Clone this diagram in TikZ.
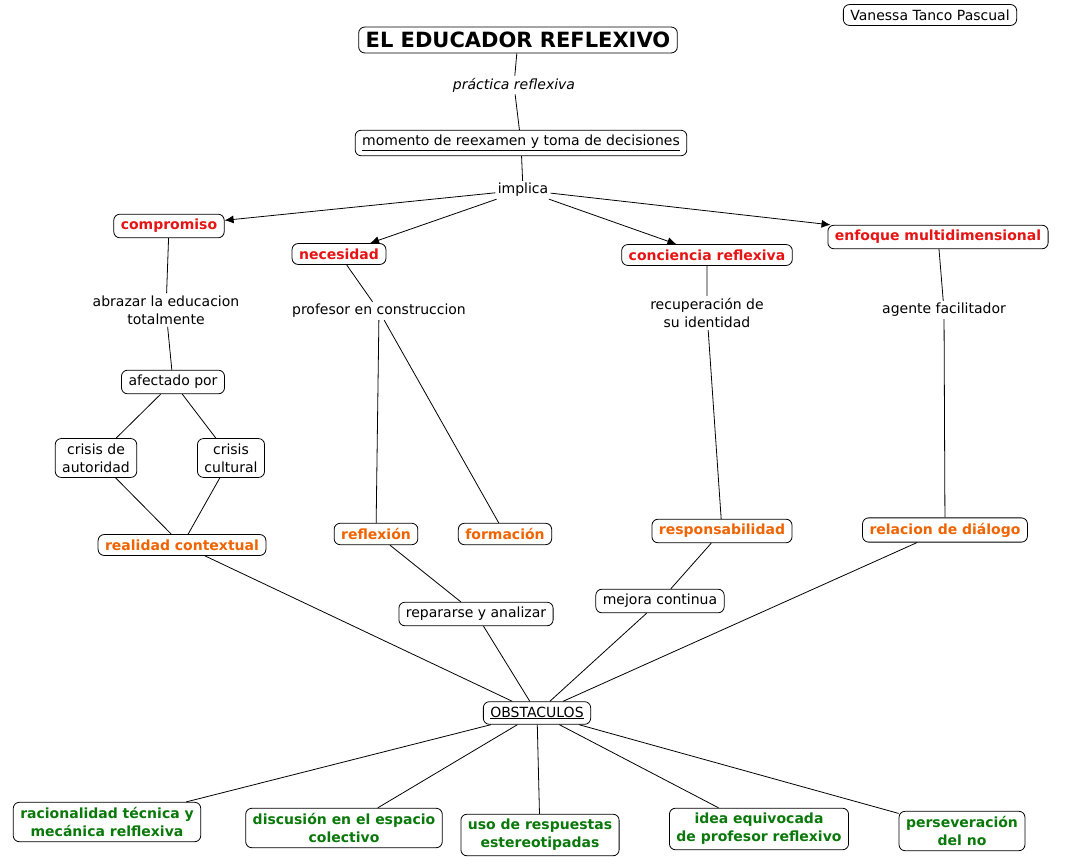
\documentclass[tikz,border=0pt]{standalone}
\usepackage{fontspec}
\setmainfont{DejaVu Sans}
\usetikzlibrary{arrows.meta}
\definecolor{cmred}{RGB}{230,20,20}
\definecolor{cmorange}{RGB}{240,100,0}
\definecolor{cmgreen}{RGB}{10,120,10}
\tikzset{>={Latex[length=9pt,width=8pt]},
             box/.style={draw, rounded corners=6pt, align=center, inner xsep=7pt, inner ysep=5pt, fill=white, font=\fontsize{14}{18}\selectfont},
             lbl/.style={align=center, fill=white, inner sep=2pt, font=\fontsize{14}{18}\selectfont},
               r/.style={text=cmred, font=\fontsize{14}{18}\selectfont\bfseries},
               o/.style={text=cmorange, font=\fontsize{14}{18}\selectfont\bfseries},
               g/.style={text=cmgreen, font=\fontsize{14}{18}\selectfont\bfseries}}

\begin{document}
\begin{tikzpicture}[x=1pt, y=-1pt, line width=0.8pt]
        \useasboundingbox (0,0) rectangle (1066,864);

        \node[box, font=\fontsize{21}{25}\selectfont\bfseries] at (518, 40) (title)   {EL EDUCADOR REFLEXIVO};
        \node[box]      at (930, 15) (author)  {Vanessa Tanco Pascual};
        \node[lbl, font=\fontsize{14}{18}\selectfont\itshape] at (514, 85) (practica) {práctica reflexiva};
        \node[box]      at (521,143) (momento) {\underline{momento de reexamen y toma de decisiones}};
        \node[lbl]      at (523,190) (implica) {implica};

        \node[box, r]   at (169,226) (compromiso) {compromiso};
        \node[box, r]   at (339,254) (necesidad)  {necesidad};
        \node[box, r]   at (707,255) (conciencia) {conciencia reflexiva};
        \node[box, r]   at (938,237) (enfoque)    {enfoque multidimensional};

        \node[lbl]      at (166,310) (abrazar)     {abrazar la educacion\\totalmente};
        \node[lbl]      at (379,311) (profesor)    {profesor en construccion};
        \node[lbl]      at (707,313) (recuperacion){recuperación de\\su identidad};
        \node[lbl]      at (944,310) (agente)      {agente facilitador};

        \node[box]      at (173,382) (afectado)  {afectado por};
        \node[box]      at ( 96,458) (autoridad) {crisis de\\autoridad};
        \node[box]      at (231,458) (cultural)  {crisis\\cultural};

        \node[box, o]   at (182,545) (realidad)        {realidad contextual};
        \node[box, o]   at (376,534) (reflexion)       {reflexión};
        \node[box, o]   at (505,534) (formacion)       {formación};
        \node[box, o]   at (722,531) (responsabilidad) {responsabilidad};
        \node[box, o]   at (945,530) (dialogo)         {relacion de diálogo};

        \node[box]      at (476,614) (repararse) {repararse y analizar};
        \node[box]      at (660,601) (mejora)    {mejora continua};
        \node[box]      at (537,713) (obstaculos){\underline{OBSTACULOS}};

        \node[box, g]   at (107,822) (racionalidad) {racionalidad técnica y\\mecánica relflexiva};
        \node[box, g]   at (344,828) (discusion)    {discusión en el espacio\\colectivo};
        \node[box, g]   at (540,835) (respuestas)   {uso de respuestas\\estereotipadas};
        \node[box, g]   at (759,829) (idea)         {idea equivocada\\de profesor reflexivo};
        \node[box, g]   at (962,831) (perseveracion){perseveración\\del no};

        \draw (title) -- (practica) -- (momento) -- (implica);
        \draw[->] (implica) -- (compromiso);
        \draw[->] (implica) -- (necesidad);
        \draw[->] (implica) -- (conciencia);
        \draw[->] (implica) -- (enfoque);

        \draw (compromiso) -- (abrazar) -- (afectado);
        \draw (afectado) -- (autoridad) -- (realidad);
        \draw (afectado) -- (cultural) -- (realidad);
        \draw (necesidad) -- (profesor);
        \draw (profesor) -- (reflexion);
        \draw (profesor) -- (formacion);
        \draw (conciencia) -- (recuperacion) -- (responsabilidad);
        \draw (enfoque) -- (agente) -- (dialogo);

        \draw (realidad) -- (obstaculos);
        \draw (reflexion) -- (repararse) -- (obstaculos);
        \draw (responsabilidad) -- (mejora) -- (obstaculos);
        \draw (dialogo) -- (obstaculos);

        \foreach \n in {racionalidad, discusion, respuestas, idea, perseveracion}
            \draw (obstaculos) -- (\n);
\end{tikzpicture}
\end{document}
